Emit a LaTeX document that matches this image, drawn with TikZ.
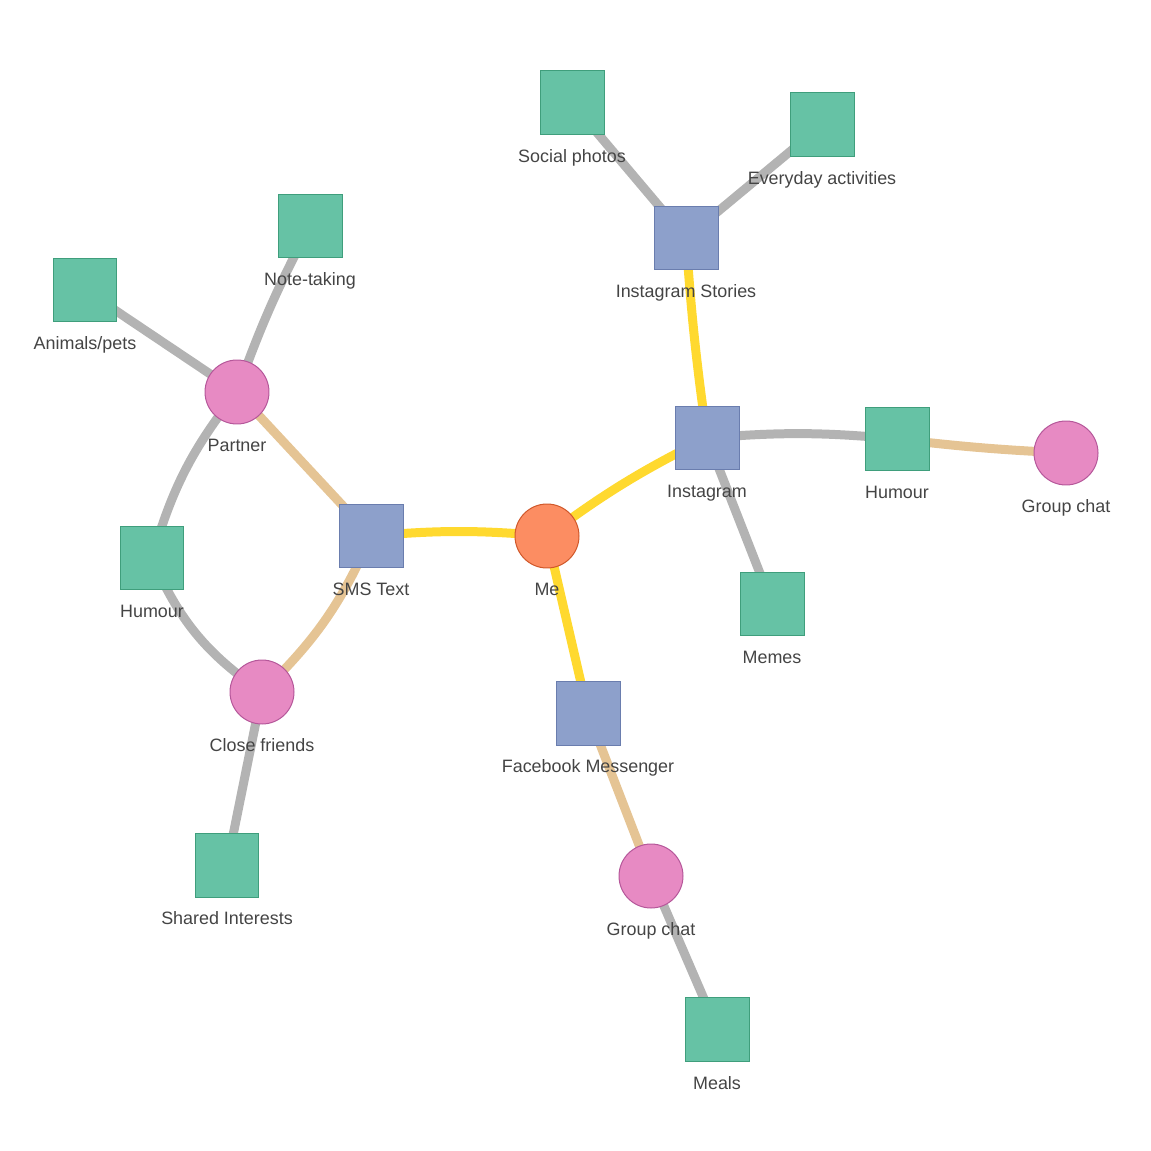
\documentclass[tikz,border=0pt]{standalone}
\usepackage{fontspec}
\setmainfont{Liberation Sans}
\usetikzlibrary{backgrounds}
\definecolor{greenf}{HTML}{66C2A5}
\definecolor{greend}{HTML}{3F9E7C}
\definecolor{bluef}{HTML}{8DA0CB}
\definecolor{blued}{HTML}{6A7DAE}
\definecolor{pinkf}{HTML}{E78AC3}
\definecolor{pinkd}{HTML}{B5579A}
\definecolor{orangef}{HTML}{FC8D62}
\definecolor{oranged}{HTML}{D0582A}
\definecolor{eyellow}{HTML}{FFD92F}
\definecolor{etan}{HTML}{E5C494}
\definecolor{egray}{HTML}{B3B3B3}
\definecolor{txt}{HTML}{444444}
\tikzset{
  sq/.style={rectangle, minimum size=1.28cm, inner sep=0pt, line width=0.02cm},
  platform/.style={sq, fill=bluef, draw=blued},
  topic/.style={sq, fill=greenf, draw=greend},
  person/.style={circle, minimum size=1.28cm, inner sep=0pt, line width=0.02cm, fill=pinkf, draw=pinkd},
  menode/.style={circle, minimum size=1.28cm, inner sep=0pt, line width=0.02cm, fill=orangef, draw=oranged},
  lbl/.style={anchor=base, inner sep=0pt, text=txt, font=\fontsize{10.2}{12}\selectfont},
  edge/.style={line width=0.18cm},
  ey/.style={edge, draw=eyellow},
  et/.style={edge, draw=etan},
  eg/.style={edge, draw=egray},
}
\begin{document}
\begin{tikzpicture}[x=0.02cm, y=0.02cm]
\useasboundingbox (0,0) rectangle (1151,-1151);
% nodes
\node[menode]   (me)   at (547,-536) {};
\node[platform] (sms)  at (371,-536) {};
\node[platform] (ig)   at (707,-438) {};
\node[platform] (fb)   at (588,-713) {};
\node[platform] (igs)  at (686,-238) {};
\node[topic]    (soc)  at (572,-103) {};
\node[topic]    (every) at (822,-125) {};
\node[topic]    (humr) at (897,-439) {};
\node[person]   (gcr)  at (1066,-453) {};
\node[topic]    (memes) at (772,-604) {};
\node[person]   (gcb)  at (651,-876) {};
\node[topic]    (meals) at (717,-1029) {};
\node[person]   (partner) at (237,-392) {};
\node[topic]    (note) at (310,-226) {};
\node[topic]    (pets) at (85,-290) {};
\node[topic]    (huml) at (152,-558) {};
\node[person]   (close) at (262,-692) {};
\node[topic]    (shared) at (227,-865) {};
% labels
\node[lbl] (me-l)    at ([yshift=-1.2cm]me.center) {Me};
\node[lbl] (sms-l)   at ([yshift=-1.2cm]sms.center) {SMS Text};
\node[lbl] (ig-l)    at ([yshift=-1.2cm]ig.center) {Instagram};
\node[lbl] (fb-l)    at ([yshift=-1.2cm]fb.center) {Facebook Messenger};
\node[lbl] (igs-l)   at ([yshift=-1.2cm]igs.center) {Instagram Stories};
\node[lbl] (soc-l)   at ([yshift=-1.2cm]soc.center) {Social photos};
\node[lbl] (every-l) at ([yshift=-1.2cm]every.center) {Everyday activities};
\node[lbl] (humr-l)  at ([yshift=-1.2cm]humr.center) {Humour};
\node[lbl] (gcr-l)   at ([yshift=-1.2cm]gcr.center) {Group chat};
\node[lbl] (memes-l) at ([yshift=-1.2cm]memes.center) {Memes};
\node[lbl] (gcb-l)   at ([yshift=-1.2cm]gcb.center) {Group chat};
\node[lbl] (meals-l) at ([yshift=-1.2cm]meals.center) {Meals};
\node[lbl] (partner-l) at ([yshift=-1.2cm]partner.center) {Partner};
\node[lbl] (note-l)  at ([yshift=-1.2cm]note.center) {Note-taking};
\node[lbl] (pets-l)  at ([yshift=-1.2cm]pets.center) {Animals/pets};
\node[lbl] (huml-l)  at ([yshift=-1.2cm]huml.center) {Humour};
\node[lbl] (close-l) at ([yshift=-1.2cm]close.center) {Close friends};
\node[lbl] (shared-l) at ([yshift=-1.2cm]shared.center) {Shared Interests};
% edges
\begin{scope}[on background layer]
\draw[ey] (me.center) to[bend right=5] (sms.center);
\draw[ey] (me.center) to[bend left=5] (ig.center);
\draw[ey] (me.center) -- (fb.center);
\draw[ey] (ig.center) to[bend left=2] (igs.center);
\draw[eg] (igs.center) -- (soc.center);
\draw[eg] (igs.center) -- (every.center);
\draw[eg] (ig.center) to[bend left=5] (humr.center);
\draw[et] (humr.center) to[bend right=2] (gcr.center);
\draw[eg] (ig.center) -- (memes.center);
\draw[et] (fb.center) -- (gcb.center);
\draw[eg] (gcb.center) -- (meals.center);
\draw[et] (sms.center) -- (partner.center);
\draw[et] (sms.center) to[bend left=11] (close.center);
\draw[eg] (partner.center) to[bend left=4] (note.center);
\draw[eg] (partner.center) -- (pets.center);
\draw[eg] (partner.center) to[bend right=11] (huml.center);
\draw[eg] (huml.center) to[bend right=16] (close.center);
\draw[eg] (close.center) -- (shared.center);
\end{scope}
\end{tikzpicture}
\end{document}
